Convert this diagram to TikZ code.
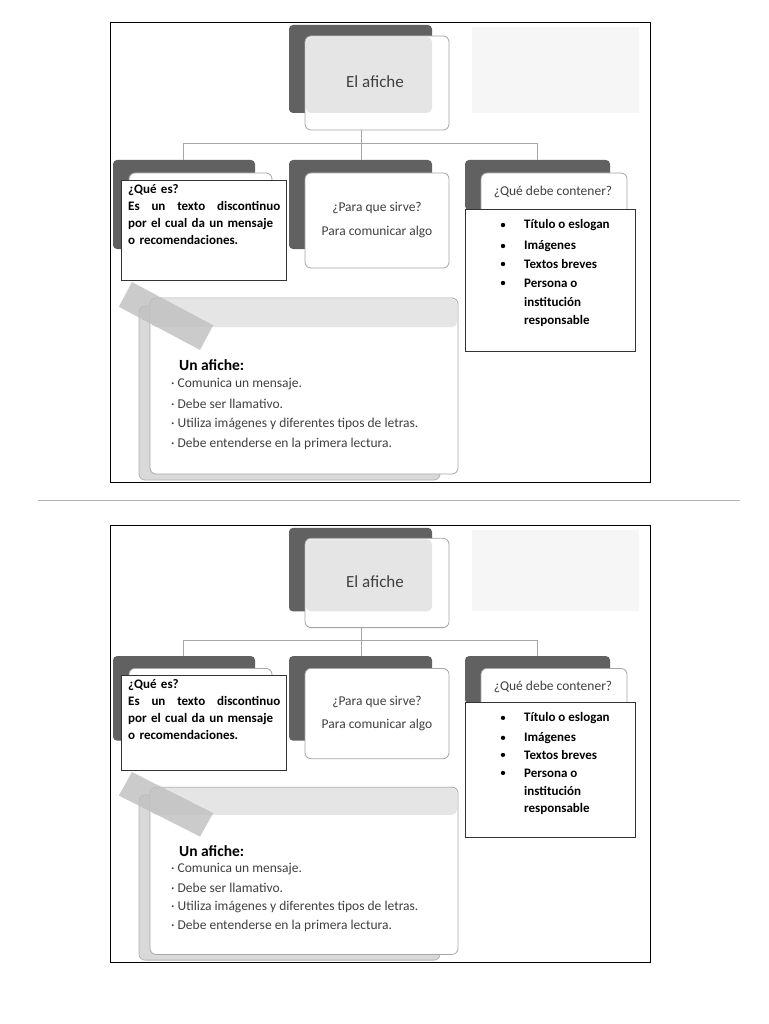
\documentclass[tikz,border=0pt]{standalone}
\usepackage{fontspec}
\setmainfont{Carlito}
\usetikzlibrary{positioning}
\definecolor{darkt}{gray}{0.38}
\definecolor{lightf}{gray}{0.90}
\definecolor{bgf}{gray}{0.965}
\tikzset{
 tab/.style={fill=darkt,rounded corners=4pt,draw=none},
 card/.style={fill=white,draw=gray!70,line width=0.8pt,rounded corners=6pt},
 sq/.style={fill=white,draw=black!80,line width=0.7pt},
 conn/.style={draw=gray!70,line width=0.8pt},
 txt/.style={font=\fontsize{13.5}{15}\selectfont,text=black!75,inner sep=0pt},
 btxt/.style={font=\fontsize{13}{17}\selectfont\bfseries,text=black,inner sep=0pt,align=left},
}
\newcommand\panel[1]{%
 \draw[black,line width=0.7pt] (110,22) rectangle (650,482);
 \fill[bgf] (472,27) rectangle (639,113);
 % root
 \fill[tab] (289,25) rectangle (432,113);
 \draw[card] (305,36) rectangle (449,130);
 \fill[lightf,rounded corners=5pt] (306,37) rectangle (432,113);
 \node[txt,font=\fontsize{17}{19}\selectfont] (#1root) at (375,82) {El afiche};
 % children frames
 \fill[tab] (113,160) rectangle (255,249);
 \draw[card] (129,173) rectangle (272,240);
 \fill[tab] (289,160) rectangle (432,249);
 \draw[card] (305,173) rectangle (449,268);
 \fill[tab] (465,160) rectangle (610,210);
 \draw[card] (481,173) rectangle (627,230);
 \coordinate (#1l) at (183,160); \coordinate (#1m) at (361,160); \coordinate (#1r) at (537,160);
 \coordinate (#1j) at (361,143);
 \draw[conn] (#1j |- 0,130) -- (#1m);
 \draw[conn] (#1l) -- (#1l |- #1j) -- (#1r |- #1j) -- (#1r);
 % left text box
 \draw[sq] (121,180) rectangle (286,280);
 \node[btxt,anchor=north west,text width=152pt,align=left] (#1q) at (128,184)
  {¿Qué es?\\Es\hfill un\hfill texto\hfill discontinuo\\por el cual da un mensaje\\o recomendaciones.};
 % middle
 \node[txt] (#1ps) at (377,208) {¿Para que sirve?};
 \node[txt] (#1pc) at (377,232) {Para comunicar algo};
 % right
 \node[txt] (#1qd) at (553,192) {¿Qué debe contener?};
 \draw[sq] (465,209) rectangle (635,351);
 \foreach \yy/\tt in {225/Título o eslogan,246/Imágenes,264/Textos breves,283/Persona o,302/institución,321/responsable}{
   \node[btxt,anchor=west] at (524,\yy) {\tt};}
 \foreach \yy in {225,246,264,283}{\fill (503,\yy) circle (2.2pt);}
 % note
 \draw[card,fill=gray!30,draw=gray!60] (139,306) rectangle (440,480);
 \draw[card] (150,298) rectangle (458,474);
 \fill[lightf,rounded corners=5pt] (151,299) rectangle (457,327);
 \fill[gray!50,opacity=0.8,rotate around={-28:(166,316)}] (120,302) rectangle (212,330);
 \node[txt,anchor=west,font=\fontsize{15.5}{17}\selectfont\bfseries,text=black] (#1un) at (179,365) {Un afiche:};
 \foreach \yy/\tt in {384/Comunica un mensaje.,404/Debe ser llamativo.,424/Utiliza imágenes y diferentes tipos de letras.,444/Debe entenderse en la primera lectura.}{
   \node[txt,anchor=west] at (171,\yy) {· \tt};}
}
\begin{document}
\begin{tikzpicture}[x=1pt,y=-1pt]
\useasboundingbox (0,0) rectangle (768,1024);
\fill[white] (0,0) rectangle (768,1024);
\panel{a}
\draw[gray!60,line width=1pt] (38,500) -- (740,500);
\begin{scope}[shift={(0,525)},yscale=0.95,shift={(0,-22)}]
\panel{b}
\end{scope}
\end{tikzpicture}
\end{document}
